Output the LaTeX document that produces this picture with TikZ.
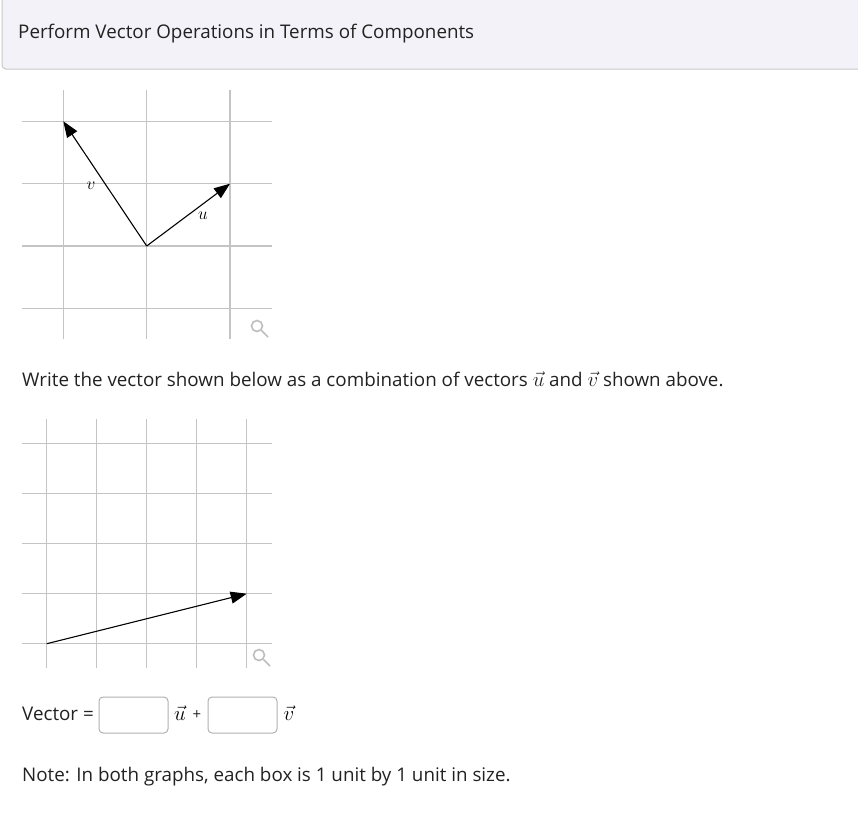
\documentclass[tikz,border=0pt]{standalone}
\usepackage{fontspec}
\setmainfont{Open Sans}
\usetikzlibrary{arrows.meta}
\definecolor{hdrfill}{HTML}{F2F2F8}
\definecolor{hdrline}{HTML}{C8C8CC}
\definecolor{gridc}{HTML}{C4C4C4}
\definecolor{txt}{HTML}{222222}
\definecolor{boxline}{HTML}{B0B0B0}
\definecolor{magc}{HTML}{BDBDBD}
\newcommand{\mvec}[1]{{\fontsize{21}{24}\selectfont$\vec{#1}$}}
\tikzset{
  gridline/.style={draw=gridc, line width=1.3pt},
  vecarrow/.style={draw=black, line width=1.1pt, -{Triangle[length=16pt,width=12pt]}, shorten >=0pt},
  bodytext/.style={anchor=base west, inner sep=0pt, text=txt, font=\fontsize{18.8}{22}\selectfont},
  veclabel/.style={inner sep=0pt, font=\fontsize{18}{20}\selectfont},
  ansbox/.style={draw=boxline, line width=1pt, rounded corners=4pt, minimum width=69pt, minimum height=36pt, inner sep=0pt},
  magnifier/.style={draw=magc, line width=1.6pt},
}
\begin{document}
\begin{tikzpicture}[x=1pt,y=-1pt]
\useasboundingbox (0,0) rectangle (858,825);
% header
\fill[hdrfill] (2,0) -- (2,65) to[out=-90,in=180] (6,69) -- (858,69) -- (858,0) -- cycle;
\draw[hdrline, line width=1pt] (2,0) -- (2,65) to[out=-90,in=180] (6,69) -- (858,69);
\node[bodytext] (title) at (18,38) {Perform Vector Operations in Terms of Components};

% top grid
\foreach \x in {63.3,146.7,230} \draw[gridline] (\x,90) -- (\x,339);
\foreach \y in {121.3,183.7,246,308.7} \draw[gridline] (22,\y) -- (272,\y);
\coordinate (o1) at (146.7,246);
\coordinate (vend) at (63.3,121.3);
\coordinate (uend) at (230,183.7);
\draw[vecarrow] (o1) -- (vend);
\draw[vecarrow] (o1) -- (uend);
\node[veclabel] (vlab) at (91,186) {$v$};
\node[veclabel] (ulab) at (203,216) {$u$};
\node[magnifier, circle, minimum size=11pt, inner sep=0pt] (mag1) at (257,326) {};
\coordinate (mag1end) at (268,337);
\draw[magnifier] (mag1.south east) -- (mag1end);

% question
\node[bodytext] (question) at (22,386) {Write the vector shown below as a combination of vectors \mvec{u} and \mvec{v} shown above.};

% bottom grid
\foreach \x in {46.7,96.7,146.7,196.7,246.7} \draw[gridline] (\x,419) -- (\x,668);
\foreach \y in {443.3,493.7,543.7,593.7,643.7} \draw[gridline] (22,\y) -- (272,\y);
\coordinate (o2) at (46.7,643.7);
\coordinate (wend) at (246.7,593.7);
\draw[vecarrow] (o2) -- (wend);
\node[magnifier, circle, minimum size=11pt, inner sep=0pt] (mag2) at (259,655) {};
\coordinate (mag2end) at (270,666);
\draw[magnifier] (mag2.south east) -- (mag2end);

% answer line
\node[bodytext] (vecword) at (22,720) {Vector =};
\node[ansbox] (box1) at (133.5,715) {};
\node[anchor=base, inner sep=0pt] (uvec) at (180,720) {\mvec{u}};
\node[anchor=base, inner sep=0pt, text=txt, font=\fontsize{15}{18}\selectfont] (plus) at (197,719) {+};
\node[ansbox] (box2) at (242.5,715) {};
\node[anchor=base, inner sep=0pt] (vvec) at (289,720) {\mvec{v}};

% note
\node[bodytext] (note) at (22,781) {Note: In both graphs, each box is 1 unit by 1 unit in size.};
\end{tikzpicture}
\end{document}
